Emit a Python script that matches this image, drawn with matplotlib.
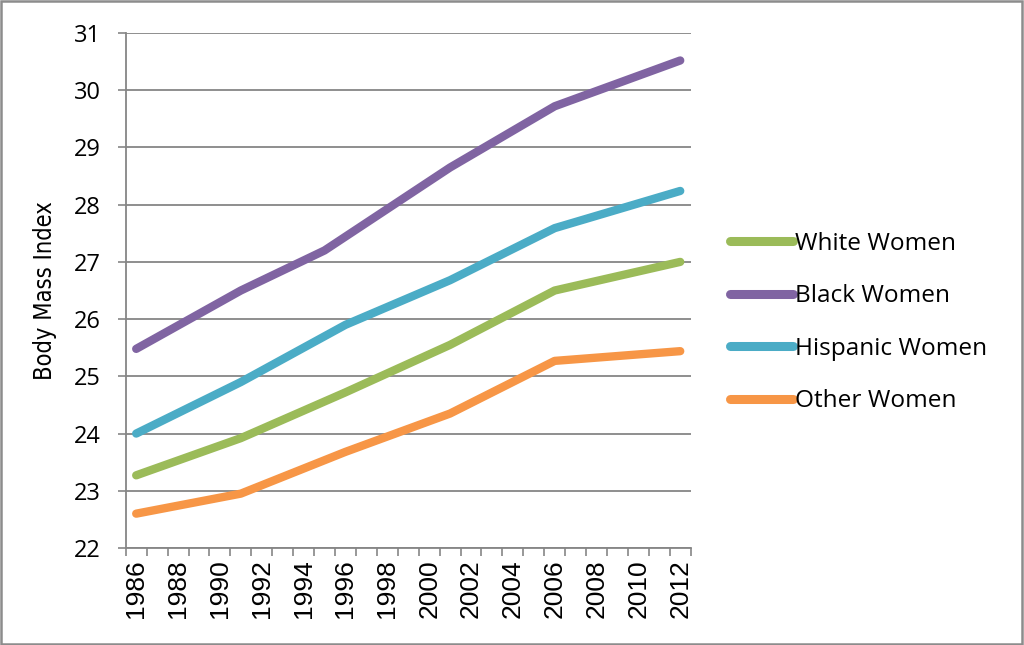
import numpy as np
import matplotlib
matplotlib.use("Agg")
import matplotlib.pyplot as plt
from matplotlib.patches import Rectangle

# BMI by group
white_years = [1986, 1991, 1996, 2001, 2006, 2012]
white_bmi = [23.27, 23.92, 24.72, 25.55, 26.50, 27.00]

black_years = [1986, 1991, 1995, 2001, 2006, 2012]
black_bmi = [25.48, 26.50, 27.20, 28.65, 29.72, 30.52]

hispanic_years = [1986, 1991, 1996, 2001, 2006, 2012]
hispanic_bmi = [24.00, 24.90, 25.90, 26.68, 27.59, 28.24]

other_years = [1986, 1991, 1996, 2001, 2006, 2012]
other_bmi = [22.60, 22.95, 23.68, 24.35, 25.27, 25.44]

series = [
    ("White Women", white_years, white_bmi, "#9BBB59"),
    ("Black Women", black_years, black_bmi, "#8064A2"),
    ("Hispanic Women", hispanic_years, hispanic_bmi, "#4BACC6"),
    ("Other Women", other_years, other_bmi, "#F79646"),
]

first_year, last_year = 1986, 2012
y_ticks = list(range(22, 32))
grid_col = "#868686"

fig = plt.figure(figsize=(10.24, 6.45), dpi=100)
ax = fig.add_axes([0.1228, 0.1504, 0.5517, 0.7984])

for name, yrs, vals, col in series:
    ax.plot(yrs, vals, color=col, linewidth=6.0, solid_capstyle="round",
            solid_joinstyle="round", label=name, zorder=3)

ax.set_xlim(first_year - 0.5, last_year + 0.5)
ax.set_ylim(22, 31)

# category-style x axis: tick marks between years, labels every 2nd year
ax.set_xticks(np.arange(first_year - 0.5, last_year + 1, 1.0))
ax.set_xticklabels([])
ax.set_xticks(range(first_year, last_year + 1, 2), minor=True)
ax.set_xticklabels([str(y) for y in range(first_year, last_year + 1, 2)],
                   minor=True, rotation=90, fontsize=19,
                   family=["Liberation Sans", "DejaVu Sans"])
ax.tick_params(axis="x", which="major", direction="out", length=6,
               width=1.2, color=grid_col)
ax.tick_params(axis="x", which="minor", length=0, pad=8)

ax.set_yticks(y_ticks)
ax.set_yticklabels([str(v) for v in y_ticks], fontsize=17,
                   family=["Open Sans", "DejaVu Sans"])
ax.tick_params(axis="y", direction="out", length=6, width=1.2,
               color=grid_col, pad=12)

ax.grid(axis="y", color=grid_col, linewidth=1.3, zorder=1)
ax.set_axisbelow(True)
for side in ("top", "right"):
    ax.spines[side].set_visible(False)
for side in ("left", "bottom"):
    ax.spines[side].set_color(grid_col)
    ax.spines[side].set_linewidth(1.3)

ax.set_ylabel("Body Mass Index", fontsize=17, labelpad=12,
              family=["DejaVu Sans"], fontstretch="condensed")

leg = ax.legend(loc="center left", bbox_to_anchor=(1.031, 0.438), frameon=False,
                prop={"family": ["Open Sans", "DejaVu Sans"], "size": 17.6},
                handlelength=2.55, handletextpad=0.1, labelspacing=1.17)
for h in leg.get_lines():
    h.set_linewidth(6.5)
    h.set_solid_capstyle("round")

# thin grey frame round the whole picture
fig.patches.append(Rectangle((0.001, 0.002), 0.997, 0.996, transform=fig.transFigure,
                             fill=False, edgecolor="#8c8c8c", linewidth=1.8))

fig.savefig("out.png", dpi=100)
